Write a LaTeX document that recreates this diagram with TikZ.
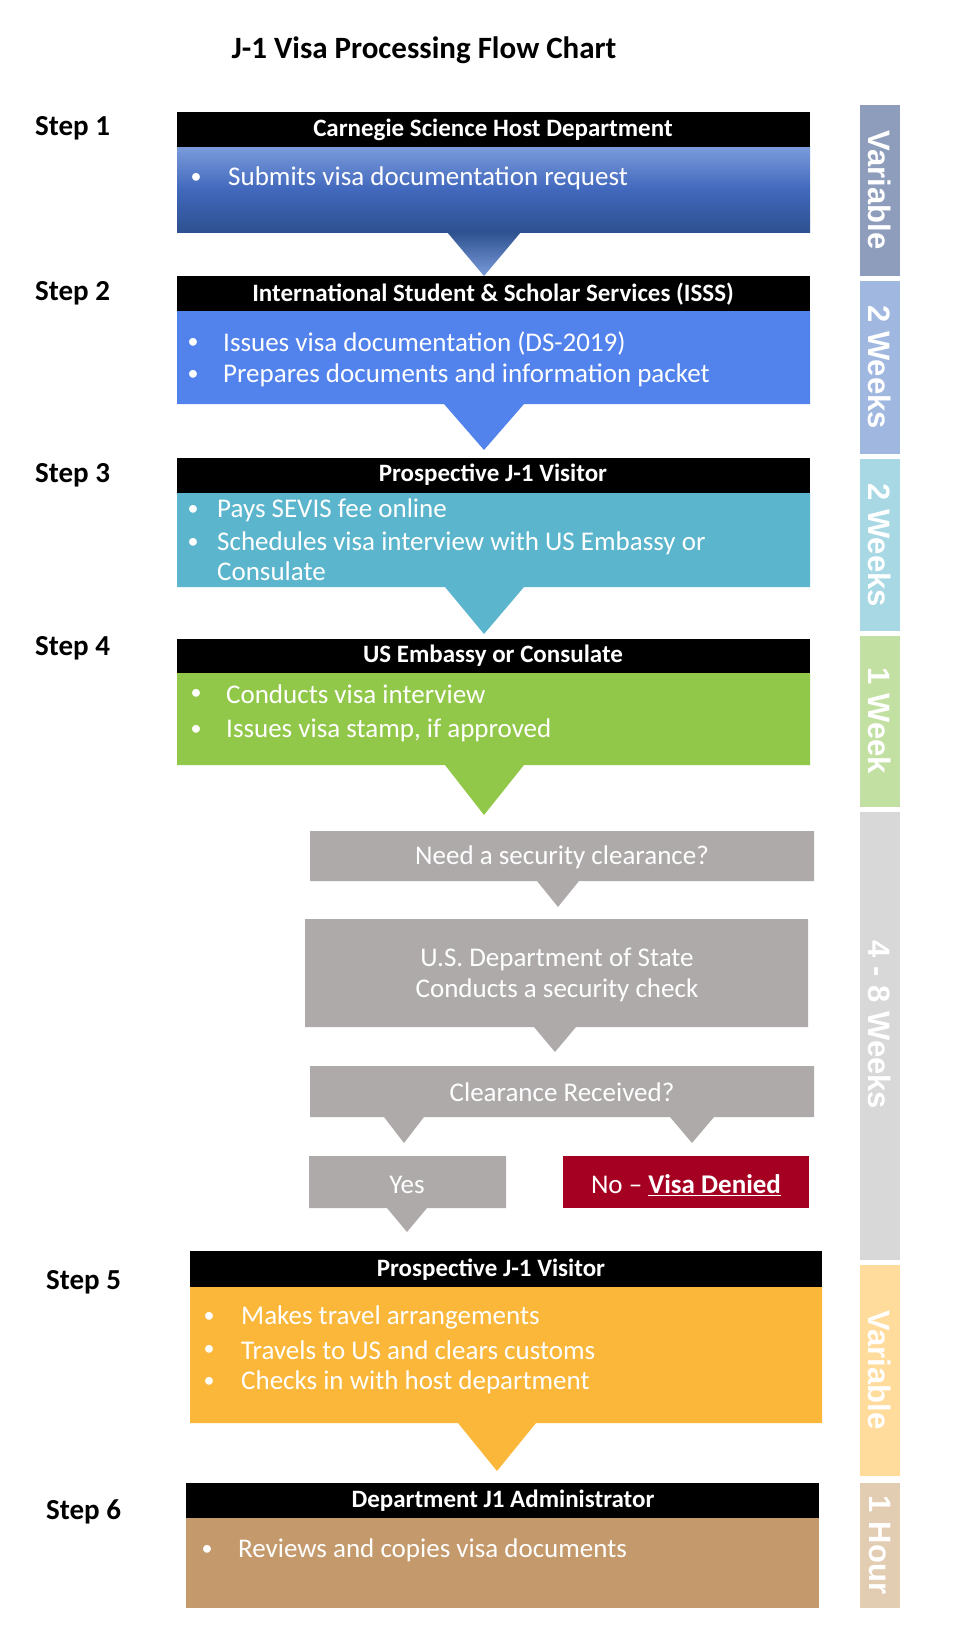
\documentclass[tikz,border=0pt]{standalone}
\usepackage{fontspec}
\setmainfont{Carlito}
\newfontfamily\sidefont{Liberation Sans}
\begin{document}
\begin{tikzpicture}[x=1pt,y=-1pt,
  hdr/.style={fill=black,text=white,font=\bfseries\fontsize{25}{28}\selectfont,inner sep=0},
  txt/.style={text=white,font=\fontsize{27}{30}\selectfont,anchor=west,inner sep=0},
  bul/.style={text=white,font=\fontsize{22}{24}\selectfont,anchor=center,inner sep=0},
  stp/.style={font=\bfseries\fontsize{29}{32}\selectfont,anchor=west,inner sep=0},
  gtxt/.style={text=white,font=\fontsize{27}{31}\selectfont,align=center,inner sep=0},
  side/.style={text=white,font=\sidefont\bfseries\fontsize{31}{34}\selectfont,rotate=-90,inner sep=0}]
\definecolor{bA}{HTML}{7A9BDA}\definecolor{bB}{HTML}{2E5190}
\definecolor{c2}{HTML}{5282EC}\definecolor{c3}{HTML}{5BB5CC}
\definecolor{c4}{HTML}{92C84A}\definecolor{gr}{HTML}{AEAAAA}
\definecolor{rd}{HTML}{A50021}\definecolor{c5}{HTML}{FBB73A}
\definecolor{c6}{HTML}{C4996C}
\definecolor{s1}{HTML}{8E9DBC}\definecolor{s2}{HTML}{A0B7E0}\definecolor{s3}{HTML}{A8D8E4}
\definecolor{s4}{HTML}{C3E0A3}\definecolor{s5}{HTML}{D9D8D9}\definecolor{s6}{HTML}{FFDB9C}
\definecolor{s7}{HTML}{E3CDB2}
\useasboundingbox (0,0) rectangle (959,1632);
\node[font=\bfseries\fontsize{31}{34}\selectfont] (title) at (424,50) {J-1 Visa Processing Flow Chart};
% side bar
\fill[s1] (860,105) rectangle (900,276); \node[side] (v1) at (880,190) {Variable};
\fill[s2] (860,281) rectangle (900,454); \node[side] (w2a) at (880,367) {2 Weeks};
\fill[s3] (860,459) rectangle (900,631); \node[side] (w2b) at (880,545) {2 Weeks};
\fill[s4] (860,636) rectangle (900,807); \node[side] (w1) at (880,721) {1 Week};
\fill[s5] (860,812) rectangle (900,1260); \node[side] (w48) at (880,1025) {4 - 8 Weeks};
\fill[s6] (860,1265) rectangle (900,1476); \node[side] (v2) at (880,1370) {Variable};
\fill[s7] (860,1483) rectangle (900,1608); \node[side] (h1) at (880,1545) {1 Hour};
% step 1
\node[stp] (st1) at (35,128) {Step 1};
\shade[top color=bA,bottom color=bB,middle color=c2!80!black] (177,147) rectangle (810,232);
\shade[top color=bB,bottom color=bA] (447,232) -- (521,232) -- (484,276) -- cycle;
\fill (177,112) rectangle (810,147);
\node[hdr,text=white] (h1t) at (493,130) {Carnegie Science Host Department};
\node[bul] at (196,178) {•}; \node[txt] (b11) at (228,178) {Submits visa documentation request};
% step 2
\node[stp] (st2) at (35,293) {Step 2};
\fill[c2] (177,311) rectangle (810,404) (444,404) -- (524,404) -- (484,450) -- cycle;
\fill (177,276) rectangle (810,311);
\node[hdr] (h2t) at (493,294) {International Student \& Scholar Services (ISSS)};
\node[bul] at (193,343) {•}; \node[txt] (b21) at (223,343) {Issues visa documentation (DS-2019)};
\node[bul] at (193,375) {•}; \node[txt] (b22) at (223,375) {Prepares documents and information packet};
% step 3
\node[stp] (st3) at (35,475) {Step 3};
\fill[c3] (177,493) rectangle (810,587) (445,587) -- (524,587) -- (484,634) -- cycle;
\fill (177,458) rectangle (810,493);
\node[hdr] (h3t) at (493,475) {Prospective J-1 Visitor};
\node[bul] at (193,510) {•}; \node[txt] (b31) at (217,510) {Pays SEVIS fee online};
\node[bul] at (193,543) {•}; \node[txt] (b32) at (217,543) {Schedules visa interview with US Embassy or};
\node[txt] (b33) at (217,571) {Consulate};
% step 4
\node[stp] (st4) at (35,648) {Step 4};
\fill[c4] (177,673) rectangle (810,765) (445,765) -- (524,765) -- (484,815) -- cycle;
\fill (177,639) rectangle (810,673);
\node[hdr] (h4t) at (493,656) {US Embassy or Consulate};
\node[bul] at (196,694) {•}; \node[txt] (b41) at (226,694) {Conducts visa interview};
\node[bul] at (196,730) {•}; \node[txt] (b42) at (226,730) {Issues visa stamp, if approved};
% grey
\fill[gr] (310,831) rectangle (814,881) (537,881) -- (579,881) -- (558,907) -- cycle;
\node[gtxt] (g1) at (562,857) {Need a security clearance?};
\fill[gr] (305,919) rectangle (808,1027) (534,1027) -- (576,1027) -- (555,1052) -- cycle;
\node[gtxt] (g2) at (557,975) {U.S. Department of State\\Conducts a security check};
\fill[gr] (310,1066) rectangle (814,1117) (384,1117) -- (424,1117) -- (404,1143) -- cycle
  (670,1117) -- (714,1117) -- (692,1143) -- cycle;
\node[gtxt] (g3) at (562,1092) {Clearance Received?};
\fill[gr] (309,1156) rectangle (506,1208) (387,1208) -- (427,1208) -- (407,1232) -- cycle;
\node[gtxt] (yes) at (407,1185) {Yes};
\fill[rd] (563,1156) rectangle (809,1208);
\node[gtxt] (no) at (686,1185) {No -- \textbf{\underline{Visa Denied}}};
% step 5
\node[stp] (st5) at (46,1282) {Step 5};
\fill[c5] (190,1287) rectangle (822,1423) (458,1423) -- (536,1423) -- (497,1471) -- cycle;
\fill (190,1251) rectangle (822,1287);
\node[hdr] (h5t) at (491,1270) {Prospective J-1 Visitor};
\node[bul] at (209,1317) {•}; \node[txt] (b51) at (241,1317) {Makes travel arrangements};
\node[bul] at (209,1350) {•}; \node[txt] (b52) at (241,1350) {Travels to US and clears customs};
\node[bul] at (209,1382) {•}; \node[txt] (b53) at (241,1382) {Checks in with host department};
% step 6
\node[stp] (st6) at (46,1512) {Step 6};
\fill[c6] (186,1518) rectangle (819,1608);
\fill (186,1483) rectangle (819,1518);
\node[hdr] (h6t) at (503,1501) {Department J1 Administrator};
\node[bul] at (207,1550) {•}; \node[txt] (b61) at (238,1550) {Reviews and copies visa documents};
\end{tikzpicture}
\end{document}
